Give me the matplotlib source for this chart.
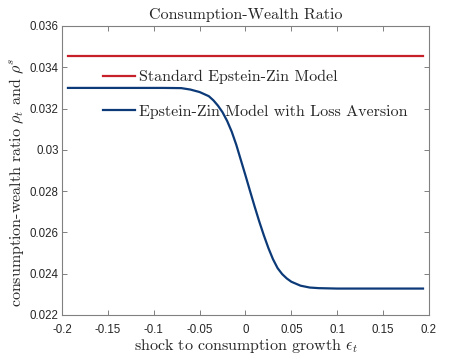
import matplotlib
matplotlib.use("Agg")
import matplotlib.pyplot as plt

# ---- data ----
eps_std = [-0.1935, 0.1935]
rho_std = [0.03455, 0.03455]

eps_la = [-0.1935, -0.12, -0.09, -0.07, -0.06, -0.05, -0.04, -0.035, -0.03,
          -0.025, -0.02, -0.015, -0.01, -0.005, 0.0, 0.005, 0.01, 0.015, 0.02,
          0.025, 0.03, 0.035, 0.04, 0.045, 0.05, 0.06, 0.07, 0.08, 0.1, 0.1935]
rho_la = [0.03300, 0.03300, 0.03300, 0.03299, 0.03292, 0.03280, 0.03260, 0.03240,
          0.03214, 0.03182, 0.03140, 0.03088, 0.03024, 0.02950, 0.02876, 0.02800,
          0.02725, 0.02653, 0.02586, 0.02524, 0.02470, 0.02427, 0.02398, 0.02377,
          0.02361, 0.02342, 0.02333, 0.02330, 0.02328, 0.02328]

xticks = [-0.2, -0.15, -0.1, -0.05, 0, 0.05, 0.1, 0.15, 0.2]
xticklabels = ["-0.2", "-0.15", "-0.1", "-0.05", "0", "0.05", "0.1", "0.15", "0.2"]
yticks = [0.022, 0.024, 0.026, 0.028, 0.030, 0.032, 0.034, 0.036]
yticklabels = ["0.022", "0.024", "0.026", "0.028", "0.03", "0.032", "0.034", "0.036"]

label_std = "Standard Epstein-Zin Model"
label_la = "Epstein-Zin Model with Loss Aversion"

plt.rcParams["mathtext.fontset"] = "cm"
plt.rcParams["axes.unicode_minus"] = False

fig = plt.figure(figsize=(4.74, 3.55), dpi=100)
ax = fig.add_axes([0.1308, 0.1127, 0.905 - 0.1308, 0.9268 - 0.1127])

red = "#C8202A"
blue = "#0C3A78"
ax.plot(eps_std, rho_std, color=red, lw=1.6, label=label_std)
ax.plot(eps_la, rho_la, color=blue, lw=1.6, label=label_la)

ax.set_xlim(-0.2, 0.2)
ax.set_ylim(0.022, 0.036)
ax.set_xticks(xticks)
ax.set_xticklabels(xticklabels, fontfamily="Liberation Sans", fontsize=8.3)
ax.set_yticks(yticks)
ax.set_yticklabels(yticklabels, fontfamily="Liberation Sans", fontsize=8.3)

axcol = "#808080"
for s in ax.spines.values():
    s.set_color(axcol)
    s.set_linewidth(0.8)
ax.tick_params(direction="in", top=True, right=True, length=3.5, width=0.7,
               color=axcol, labelcolor="#262626")
ax.tick_params(axis="x", pad=6.5)
ax.tick_params(axis="y", pad=2.5)

ax.set_title("Consumption-Wealth Ratio", fontfamily="cmr10", fontsize=11.5,
             color="#262626", pad=5)
ax.set_xlabel(r"shock to consumption growth $\epsilon_t$", fontfamily="cmr10",
              fontsize=11.5, color="#262626", labelpad=1)
ax.set_ylabel(r"consumption-wealth ratio $\rho_t$ and $\rho^s$", fontfamily="cmr10",
              fontsize=11.5, color="#262626")
ax.yaxis.set_label_coords(-0.098, 0.46)

leg = ax.legend(loc="upper left", bbox_to_anchor=(0.093, 0.869), frameon=False,
                prop={"family": "cmr10", "size": 11.5}, handlelength=2.05,
                handletextpad=0.25, labelspacing=1.25, borderaxespad=0)
for t in leg.get_texts():
    t.set_color("#262626")

fig.savefig("out.png", dpi=100)
